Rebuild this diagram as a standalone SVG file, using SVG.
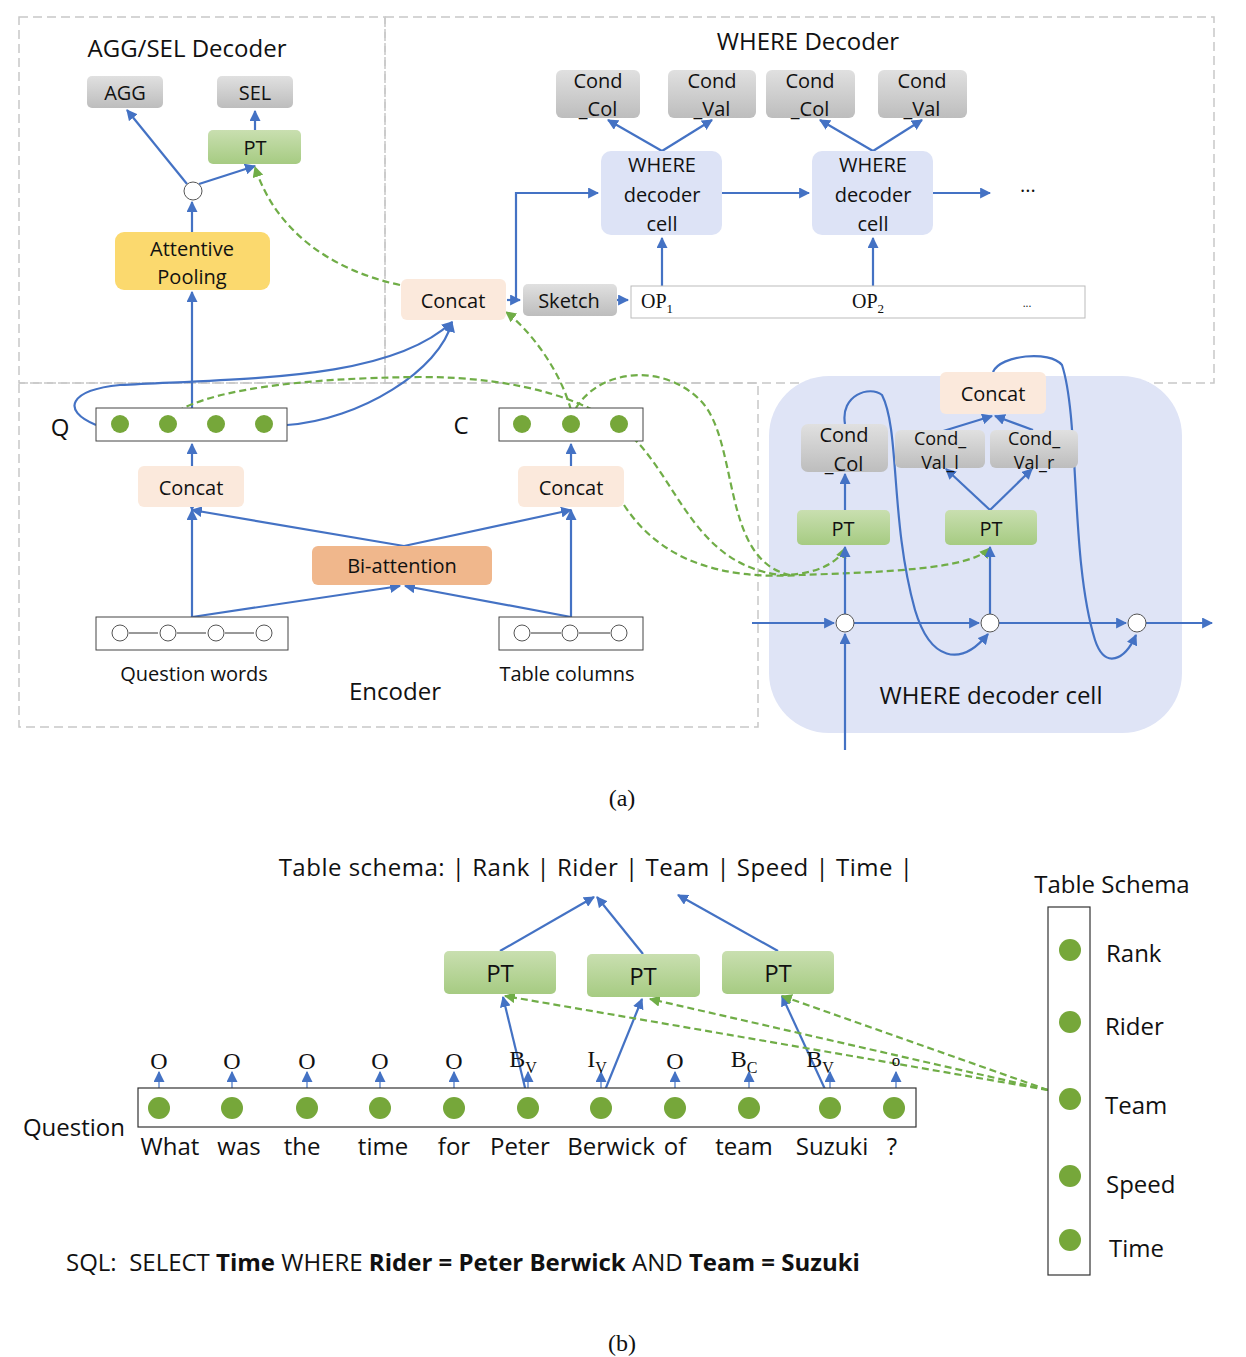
<svg xmlns="http://www.w3.org/2000/svg" width="1246" height="1357" viewBox="0 0 1246 1357">
<defs>
<marker id="a" viewBox="0 0 10 10" refX="9" refY="5" markerWidth="5" markerHeight="5" orient="auto"><path d="M0,0L10,5L0,10z" fill="#4472C4"/></marker>
<marker id="as" viewBox="0 0 10 10" refX="9" refY="5" markerWidth="11" markerHeight="11" markerUnits="userSpaceOnUse" orient="auto"><path d="M0,0L10,5L0,10z" fill="#4472C4"/></marker>
<marker id="g" viewBox="0 0 10 10" refX="9" refY="5" markerWidth="5" markerHeight="5" orient="auto"><path d="M0,0L10,5L0,10z" fill="#70AD47"/></marker>
<linearGradient id="gr" x1="0" y1="0" x2="0" y2="1"><stop offset="0" stop-color="#E0E0E0"/><stop offset="1" stop-color="#BDBDBD"/></linearGradient>
<linearGradient id="gn" x1="0" y1="0" x2="0" y2="1"><stop offset="0" stop-color="#C9DFB0"/><stop offset="1" stop-color="#A6CB82"/></linearGradient>
</defs>
<style>
text{font-family:"Open Sans","Liberation Sans",sans-serif;fill:#111;text-anchor:middle}
.t{font-size:20px}.s{font-size:18px}.l{font-size:24px}
.gray{fill:url(#gr)}.pt{fill:url(#gn)}.pe{fill:#FBE9DC}.cell{fill:#DDE3F6}
.b{stroke:#4472C4;stroke-width:2.2;fill:none}
.ba{stroke:#4472C4;stroke-width:2.2;fill:none;marker-end:url(#a)}
.gd{stroke:#70AD47;stroke-width:2.2;fill:none;stroke-dasharray:7,4;marker-end:url(#g)}
.gdn{stroke:#70AD47;stroke-width:2.2;fill:none;stroke-dasharray:7,4}
.dash{stroke:#C8C8C8;stroke-width:1.5;fill:none;stroke-dasharray:9,5}
.dot{fill:#76A73A}
.oc{fill:#fff;stroke:#555;stroke-width:1}
.sf{font-family:"Liberation Serif",serif}
</style>
<rect x="19" y="17" width="366" height="366" class="dash"/>
<rect x="385" y="17" width="829" height="366" class="dash"/>
<rect x="19" y="383" width="739" height="344" class="dash"/>
<rect x="769" y="376" width="413" height="357" rx="60" fill="#DFE4F6"/>

<g id="connectors">
<path class="ba" d="M192,408V292"/>
<path class="ba" d="M192,232V202"/>
<path class="ba" d="M187,184L127,110"/>
<path class="ba" d="M199,184L255,166"/>
<path class="ba" d="M255,130V111"/>
<path class="gd" d="M400,285C330,270 275,230 255,167"/>
<path class="ba" d="M507,300H520"/>
<path class="ba" d="M516,300V193H598"/>
<path class="ba" d="M617,300H628"/>
<path class="ba" d="M662,286V238"/>
<path class="ba" d="M873,286V238"/>
<path class="ba" d="M722,193H809"/>
<path class="ba" d="M933,193H990"/>
<path class="ba" d="M662,151L608,120"/>
<path class="ba" d="M662,151L712,120"/>
<path class="ba" d="M873,151L820,120"/>
<path class="ba" d="M873,151L922,120"/>
<path class="ba" d="M96,425C60,410 70,390 120,385C250,378 390,380 452,322"/>
<path class="ba" d="M287,425C360,420 440,370 452,322"/>
<path class="gd" d="M571,410C560,370 530,330 506,312"/>
<path class="gdn" d="M168,418C200,390 300,378 420,377C520,377 600,400 640,445C680,490 700,565 780,575"/>
<path class="gd" d="M780,575C820,575 840,560 845,548"/>
<path class="gdn" d="M571,418C590,370 660,360 700,400C740,440 720,560 790,575"/>
<path class="gd" d="M624,505C660,560 720,580 800,575C880,572 970,570 990,548"/>
<path class="ba" d="M192,466V510"/>
<path class="ba" d="M192,466V444"/>
<path class="ba" d="M571,466V444"/>
<path class="ba" d="M192,617V510"/>
<path class="ba" d="M571,617V510"/>
<path class="ba" d="M192,617L400,586"/>
<path class="ba" d="M571,617L405,586"/>
<path class="ba" d="M404,546L192,510"/>
<path class="ba" d="M404,546L571,510"/>
<path class="ba" d="M752,623H834"/>
<path class="ba" d="M854,623H979"/>
<path class="ba" d="M999,623H1126"/>
<path class="ba" d="M1146,623H1212"/>
<path class="ba" d="M845,750V634"/>
<path class="ba" d="M845,614V547"/>
<path class="ba" d="M845,510V474"/>
<path class="ba" d="M990,614V547"/>
<path class="ba" d="M990,510L946,469"/>
<path class="ba" d="M990,510L1032,469"/>
<path class="ba" d="M940,432L992,416"/>
<path class="ba" d="M1033,430L995,416"/>
<path class="ba" d="M845,424C840,395 870,385 882,395C900,430 890,520 915,610C930,660 960,668 988,634"/>
<path class="ba" d="M993,372C1000,355 1050,350 1062,365C1080,420 1070,560 1095,640C1105,670 1125,660 1136,635"/>
<path class="ba" d="M500,951L594,897"/>
<path class="ba" d="M643,954L597,897"/>
<path class="ba" d="M778,951L678,895"/>
<path class="ba" d="M528,1100L503,997"/>
<path class="ba" d="M601,1100L642,999"/>
<path class="ba" d="M830,1100L782,996"/>
<path class="gd" d="M1048,1090L505,996"/>
<path class="gd" d="M1048,1090L650,999"/>
<path class="gd" d="M1048,1090L782,996"/>
<g class="b" style="stroke-width:1.2;marker-end:url(#as)">
<path d="M159,1098V1072"/><path d="M232,1098V1072"/><path d="M307,1098V1072"/><path d="M380,1098V1072"/><path d="M454,1098V1072"/><path d="M528,1098V1072"/><path d="M601,1098V1072"/><path d="M675,1098V1072"/><path d="M749,1098V1072"/><path d="M830,1098V1072"/><path d="M896,1098V1072"/>
</g>
</g>

<g id="agg-sel">
<text x="187" y="57" class="l">AGG/SEL Decoder</text>
<g id="agg"><rect x="87" y="76" width="76" height="32" rx="5" class="gray"/><text x="125" y="100" class="t">AGG</text></g>
<g id="sel"><rect x="217" y="76" width="76" height="32" rx="5" class="gray"/><text x="255" y="100" class="t">SEL</text></g>
<g id="pt0"><rect x="208" y="130" width="93" height="34" rx="5" class="pt"/><text x="255" y="155" class="t">PT</text></g>
<circle cx="193" cy="191" r="9" class="oc"/>
<g id="attpool"><rect x="115" y="232" width="155" height="58" rx="9" fill="#FBD96E"/><text x="192" y="256" class="t">Attentive</text><text x="192" y="284" class="t">Pooling</text></g>
</g>

<g id="where">
<text x="808" y="50" class="l">WHERE Decoder</text>
<g id="cc1"><rect x="556" y="70" width="84" height="48" rx="6" class="gray"/><text x="598" y="88" class="t">Cond</text><text x="598" y="116" class="t">_Col</text></g>
<g id="cv1"><rect x="668" y="70" width="88" height="48" rx="6" class="gray"/><text x="712" y="88" class="t">Cond</text><text x="712" y="116" class="t">_Val</text></g>
<g id="cc2"><rect x="766" y="70" width="89" height="48" rx="6" class="gray"/><text x="810" y="88" class="t">Cond</text><text x="810" y="116" class="t">_Col</text></g>
<g id="cv2"><rect x="878" y="70" width="89" height="48" rx="6" class="gray"/><text x="922" y="88" class="t">Cond</text><text x="922" y="116" class="t">_Val</text></g>
<g id="wc1"><rect x="601" y="151" width="121" height="84" rx="10" class="cell"/><text x="662" y="172" class="t">WHERE</text><text x="662" y="202" class="t">decoder</text><text x="662" y="231" class="t">cell</text></g>
<g id="wc2"><rect x="812" y="151" width="121" height="84" rx="10" class="cell"/><text x="873" y="172" class="t">WHERE</text><text x="873" y="202" class="t">decoder</text><text x="873" y="231" class="t">cell</text></g>
<text x="1028" y="192" class="t">...</text>
<g id="concat0"><rect x="401" y="279" width="105" height="41" rx="6" class="pe"/><text x="453" y="308" class="t">Concat</text></g>
<g id="sketch"><rect x="523" y="284" width="94" height="32" rx="5" class="gray"/><text x="569" y="308" class="t">Sketch</text></g>
<g id="ops"><rect x="631" y="286" width="454" height="32" fill="none" stroke="#bbb" stroke-width="1"/>
<text x="657" y="308" class="sf" style="font-size:20px">OP<tspan font-size="13" dy="5">1</tspan></text>
<text x="868" y="308" class="sf" style="font-size:20px">OP<tspan font-size="13" dy="5">2</tspan></text>
<text x="1027" y="307" style="font-size:11px">...</text></g>
</g>

<g id="encoder">
<text x="60" y="436" class="l">Q</text>
<text x="461" y="434" class="l">C</text>
<g id="qbox"><rect x="96" y="408" width="191" height="33" fill="#fff" stroke="#444" stroke-width="1"/>
<circle cx="120" cy="424" r="9" class="dot"/><circle cx="168" cy="424" r="9" class="dot"/><circle cx="216" cy="424" r="9" class="dot"/><circle cx="264" cy="424" r="9" class="dot"/></g>
<g id="cbox"><rect x="499" y="408" width="144" height="33" fill="#fff" stroke="#444" stroke-width="1"/>
<circle cx="522" cy="424" r="9" class="dot"/><circle cx="571" cy="424" r="9" class="dot"/><circle cx="619" cy="424" r="9" class="dot"/></g>
<g id="concatL"><rect x="138" y="466" width="106" height="41" rx="6" class="pe"/><text x="191" y="495" class="t">Concat</text></g>
<g id="concatR"><rect x="518" y="466" width="106" height="41" rx="6" class="pe"/><text x="571" y="495" class="t">Concat</text></g>
<g id="biatt"><rect x="312" y="546" width="180" height="39" rx="6" fill="#F0B78C"/><text x="402" y="573" class="t">Bi-attention</text></g>
<g id="qwords"><rect x="96" y="617" width="192" height="33" fill="#fff" stroke="#444" stroke-width="1"/>
<g class="oc"><circle cx="120" cy="633" r="8"/><circle cx="168" cy="633" r="8"/><circle cx="216" cy="633" r="8"/><circle cx="264" cy="633" r="8"/></g>
<path d="M129,633H158M177,633H206M225,633H254" stroke="#333" stroke-width="1"/></g>
<g id="tcols"><rect x="499" y="617" width="144" height="33" fill="#fff" stroke="#444" stroke-width="1"/>
<g class="oc"><circle cx="522" cy="633" r="8"/><circle cx="570" cy="633" r="8"/><circle cx="619" cy="633" r="8"/></g>
<path d="M531,633H561M579,633H610" stroke="#333" stroke-width="1"/></g>
<text x="194" y="681" class="t">Question words</text>
<text x="567" y="681" class="t">Table columns</text>
<text x="395" y="700" class="l">Encoder</text>
</g>

<g id="wcell">
<g id="concat2"><rect x="940" y="372" width="106" height="42" rx="6" class="pe"/><text x="993" y="401" class="t">Concat</text></g>
<g id="ccol"><rect x="801" y="424" width="87" height="48" rx="7" class="gray"/><text x="844" y="442" class="t">Cond</text><text x="844" y="471" class="t">_Col</text></g>
<g id="cvl"><rect x="895" y="430" width="90" height="38" rx="6" class="gray"/><text x="940" y="445" class="s">Cond_</text><text x="940" y="469" class="s">Val_l</text></g>
<g id="cvr"><rect x="990" y="430" width="88" height="38" rx="6" class="gray"/><text x="1034" y="445" class="s">Cond_</text><text x="1034" y="469" class="s">Val_r</text></g>
<g id="pt1"><rect x="797" y="510" width="93" height="35" rx="5" class="pt"/><text x="843" y="536" class="t">PT</text></g>
<g id="pt2"><rect x="945" y="510" width="92" height="35" rx="5" class="pt"/><text x="991" y="536" class="t">PT</text></g>
<circle cx="845" cy="623" r="9" class="oc"/><circle cx="990" cy="623" r="9" class="oc"/><circle cx="1137" cy="623" r="9" class="oc"/>
<text x="991" y="704" class="l">WHERE decoder cell</text>
</g>
<text x="622" y="806" class="sf" style="font-size:24px">(a)</text>

<g id="partb">
<text x="596" y="876" style="font-size:24px;letter-spacing:0.5px">Table schema: | Rank | Rider | Team | Speed | Time |</text>
<g id="ptb1"><rect x="444" y="951" width="112" height="43" rx="5" class="pt"/><text x="500" y="982" class="l">PT</text></g>
<g id="ptb2"><rect x="587" y="954" width="113" height="43" rx="5" class="pt"/><text x="643" y="985" class="l">PT</text></g>
<g id="ptb3"><rect x="722" y="951" width="112" height="43" rx="5" class="pt"/><text x="778" y="982" class="l">PT</text></g>
<g id="qrow"><rect x="138" y="1088" width="778" height="39" fill="#fff" stroke="#333" stroke-width="1.2"/>
<g class="dot"><circle cx="159" cy="1108" r="11"/><circle cx="232" cy="1108" r="11"/><circle cx="307" cy="1108" r="11"/><circle cx="380" cy="1108" r="11"/><circle cx="454" cy="1108" r="11"/><circle cx="528" cy="1108" r="11"/><circle cx="601" cy="1108" r="11"/><circle cx="675" cy="1108" r="11"/><circle cx="749" cy="1108" r="11"/><circle cx="830" cy="1108" r="11"/><circle cx="894" cy="1108" r="11"/></g></g>
<g style="font-size:24px">
<text x="159" y="1069" class="sf">O</text><text x="232" y="1069" class="sf">O</text><text x="307" y="1069" class="sf">O</text><text x="380" y="1069" class="sf">O</text><text x="454" y="1069" class="sf">O</text>
<text x="523" y="1067" class="sf">B<tspan font-size="16" dy="6">V</tspan></text>
<text x="597" y="1067" class="sf">I<tspan font-size="16" dy="6">V</tspan></text>
<text x="675" y="1069" class="sf">O</text>
<text x="744" y="1067" class="sf">B<tspan font-size="16" dy="6">C</tspan></text>
<text x="820" y="1067" class="sf">B<tspan font-size="16" dy="6">V</tspan></text>
<text x="896" y="1066" class="sf" style="font-size:17px">o</text>
</g>
<text x="74" y="1136" class="l">Question</text>
<g class="l"><text x="170" y="1155">What</text><text x="239" y="1155">was</text><text x="302" y="1155">the</text><text x="383" y="1155">time</text><text x="454" y="1155">for</text><text x="520" y="1155">Peter</text><text x="611" y="1155">Berwick</text><text x="675" y="1155">of</text><text x="744" y="1155">team</text><text x="832" y="1155">Suzuki</text><text x="892" y="1155">?</text></g>
<text x="1112" y="893" class="l">Table Schema</text>
<g id="schema"><rect x="1048" y="907" width="42" height="368" fill="#fff" stroke="#333" stroke-width="1.2"/>
<g class="dot"><circle cx="1070" cy="950" r="11"/><circle cx="1070" cy="1022" r="11"/><circle cx="1070" cy="1099" r="11"/><circle cx="1070" cy="1176" r="11"/><circle cx="1070" cy="1240" r="11"/></g>
<g class="l"><text x="1106" y="962" style="text-anchor:start">Rank</text><text x="1105" y="1035" style="text-anchor:start">Rider</text><text x="1105" y="1114" style="text-anchor:start">Team</text><text x="1106" y="1193" style="text-anchor:start">Speed</text><text x="1109" y="1257" style="text-anchor:start">Time</text></g></g>
<text x="66" y="1271" style="font-size:24px;text-anchor:start" xml:space="preserve">SQL:  SELECT <tspan font-weight="bold">Time</tspan> WHERE <tspan font-weight="bold">Rider = Peter Berwick</tspan> AND <tspan font-weight="bold">Team = Suzuki</tspan></text>
<text x="622" y="1351" class="sf" style="font-size:24px">(b)</text>
</g>
</svg>
